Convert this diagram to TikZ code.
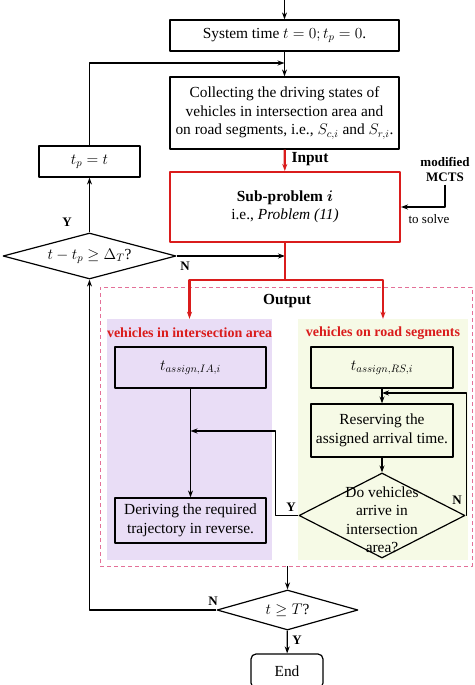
\RequirePackage{fix-cm}
\documentclass[tikz,border=0pt]{standalone}
\usepackage{amsmath,amssymb,bm}
\usepackage{fontspec}
\setmainfont{Liberation Serif}
\newfontfamily\tms{Liberation Serif}
\usetikzlibrary{shapes.geometric,arrows.meta}
\definecolor{lav}{RGB}{233,221,246}
\definecolor{rsfill}{RGB}{246,250,230}
\definecolor{outred}{RGB}{218,28,28}
\definecolor{dashpink}{RGB}{228,112,152}
\begin{document}
\begin{tikzpicture}[x=1pt, y=-1pt, line join=round, >={Stealth[length=7pt,width=5pt]},
    font=\tms\fontsize{15.4}{18.5}\selectfont,
    ln/.style={line width=1.2pt},
    rl/.style={draw=outred, line width=2.2pt},
    box/.style={draw, line width=1.2pt, align=center, inner sep=2pt},
    dia/.style={draw, diamond, aspect=3.5, line width=1.2pt, inner sep=0pt},
    yn/.style={font=\tms\fontsize{13}{15}\selectfont\bfseries},
    hd/.style={text=outred, font=\tms\fontsize{14}{16}\selectfont\bfseries}]
    \useasboundingbox (0,0) rectangle (474,685);
    % output part
    \node[draw=dashpink, dashed, dash pattern=on 4pt off 3pt, line width=0.9pt, minimum width=372, minimum height=279, inner sep=0pt] (outbox) at (286,426.5) {};
    \node[fill=lav, minimum width=165, minimum height=241, inner sep=0pt] (iaarea) at (189.5,439.5) {};
    \node[fill=rsfill, minimum width=170, minimum height=241, inner sep=0pt] (rsarea) at (383,439.5) {};
    \node[font=\tms\fontsize{15.4}{18.5}\selectfont\bfseries] (outl) at (287,301) {Output};
    \node[hd] (iahd) at (189.5,333) {vehicles in intersection area};
    \node[hd] (rshd) at (383,333) {vehicles on road segments};
    % boxes
    \node[box, minimum width=229, minimum height=31] (sys) at (284.5,35.5) {System time $t=0; t_p=0$.};
    \node[box, minimum width=229, minimum height=72] (coll) at (284.5,113) {Collecting the driving states of\\vehicles in intersection area and\\on road segments, i.e., $S_{c,i}$ and $S_{r,i}$.};
    \node[box, draw=outred, line width=2pt, minimum width=230, minimum height=70] (sub) at (285,207) {\textbf{Sub-problem $\bm{i}$}\\i.e., \textit{Problem (11)}};
    \node[box, minimum width=101, minimum height=31] (tp) at (89.5,161.5) {$t_p = t$};
    \node[dia, minimum width=173, minimum height=46] (dT) at (89.5,256) {$t-t_p \geq \Delta_T$?};
    \node[yn, align=center] (mcts) at (445,169) {modified\\MCTS};
    \node[font=\tms\fontsize{13}{15}\selectfont] (solve) at (429,219) {to solve};
    \node[font=\tms\fontsize{15.4}{18.5}\selectfont\bfseries] (inp) at (310,159) {Input};
    \node[box, fill=lav, minimum width=151, minimum height=41] (iaA) at (190.5,367.5) {$t_{assign,IA,i}$};
    \node[box, fill=rsfill, minimum width=142, minimum height=41] (rsA) at (382,367.5) {$t_{assign,RS,i}$};
    \node[box, fill=rsfill, minimum width=142, minimum height=53] (res) at (382,430.5) {Reserving the\\assigned arrival time.};
    \node[box, fill=lav, minimum width=151, minimum height=45] (der) at (190.5,520.5) {Deriving the required\\trajectory in reverse.};
    \node[dia, fill=rsfill, minimum width=166, minimum height=85] (arr) at (382,515.5) {};
    \node[align=center] (arrtxt) at (382,520) {Do vehicles\\arrive in\\intersection\\area?};
    \node[dia, minimum width=141, minimum height=40] (tT) at (287.5,610) {$t \geq T$?};
    \node[box, rounded corners=5pt, minimum width=72, minimum height=34] (end) at (287,671) {End};
    % connectors
    \coordinate (top) at (284.5,0);
    \coordinate (fb) at (284.5,63);
    \coordinate (mid) at (285,256);
    \coordinate (split) at (285,280);
    \coordinate (j3) at (190.5,431);
    \coordinate (j4) at (382,393);
    \draw[ln,->] (top) -- (sys);
    \draw[ln,->] (sys) -- (coll);
    \draw[ln,->] (tp.north) |- (fb);
    \draw[rl,->] (coll) -- (sub);
    \draw[ln,->] (mcts.south) |- (sub.east);
    \draw[ln,->] (dT.north) -- (tp.south);
    \draw[ln,->] (dT.east) -- (mid);
    \draw[rl] (sub.south) -- (split);
    \draw[rl,->] (split) -| (iaarea.north);
    \draw[rl,->] (split) -| (rsarea.north);
    \draw[ln,->] (iaA) -- (der);
    \draw[ln,->] (arr.west) -- ++(-23,0) |- (j3);
    \draw[ln,->] (rsA) -- (res);
    \draw[ln,->] (res) -- (arr);
    \draw[ln,->] (arr.east) -- ++(1,0) |- (j4);
    \draw[ln,->] (outbox.south -| tT.north) -- (tT.north);
    \draw[ln,->] (tT.west) -| (dT.south);
    \draw[ln,->] (tT) -- (end);
    \foreach \x/\y/\t in {67/222/Y, 185/266/N, 291/507/Y, 457/500/N, 213/601/N, 297/640/Y}
        \node[yn] (yn-\x) at (\x,\y) {\t};
\end{tikzpicture}
\end{document}
